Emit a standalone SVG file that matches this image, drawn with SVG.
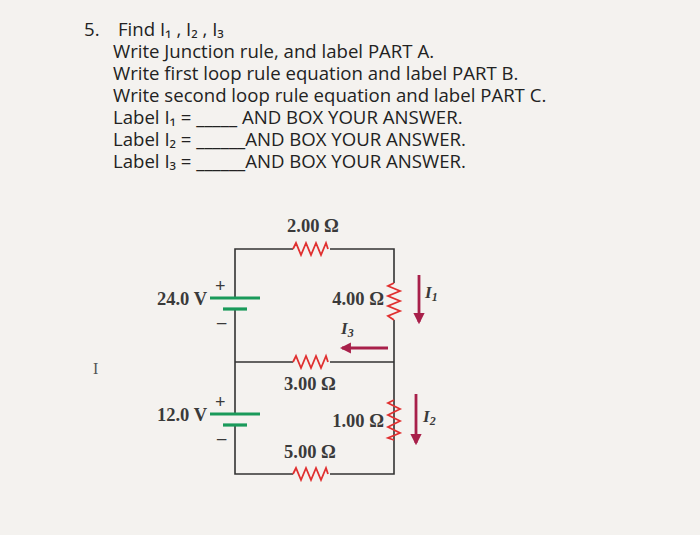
<svg xmlns="http://www.w3.org/2000/svg" width="700" height="535" viewBox="0 0 700 535">
<style>
.t{font-family:"Open Sans",sans-serif;font-size:18.6px;fill:#222}
.c{font-family:"Liberation Serif",serif;font-size:18.5px;font-weight:bold;fill:#3a3a3a}
.w{stroke:#333;stroke-width:1.6;fill:none}
.r{stroke:#e03030;stroke-width:1.8;fill:none;stroke-linejoin:miter}
.b{stroke:#1a9a5a;stroke-width:3.2}
.a{stroke:#a8204a;stroke-width:2.8}
.ci{font-family:"Liberation Serif",serif;font-style:italic;font-weight:bold;font-size:17px;fill:#3a3a3a}
</style>
<defs><marker id="ah" viewBox="0 0 10 10" refX="8" refY="5" markerWidth="4" markerHeight="4" orient="auto"><path d="M0,0L10,5L0,10z" fill="#a8204a"/></marker></defs>
<rect width="700" height="535" fill="#f4f2ef"/>
<g id="text">
<text class="t" x="84" y="36">5.</text>
<text class="t" x="118" y="36">Find I₁ , I₂ , I₃</text>
<text class="t" x="113" y="58">Write Junction rule, and label PART A.</text>
<text class="t" x="113" y="80">Write first loop rule equation and label PART B.</text>
<text class="t" x="113" y="102">Write second loop rule equation and label PART C.</text>
<text class="t" x="113" y="124">Label I₁  = _____ AND BOX YOUR ANSWER.</text>
<text class="t" x="113" y="146">Label I₂ = ______AND BOX YOUR ANSWER.</text>
<text class="t" x="113" y="168">Label I₃ = ______AND BOX YOUR ANSWER.</text>
<text x="93" y="374" font-family="Liberation Serif,serif" font-size="16" fill="#555">I</text>
</g>
<g id="connectors">
<path class="w" d="M235,298V249H293M330,249H394V283M394,320V474H330M293,474H235V425M235,414V309M235,362H293M330,362H394"/>
</g>
<g id="r2"><path class="r" d="M293,249l3,-6l5,12l5,-12l5,12l5,-12l5,12l5,-12l2,6"/><text class="c" x="313" y="232" text-anchor="middle">2.00 Ω</text></g>
<g id="r3"><path class="r" d="M293,362l3,-6l5,12l5,-12l5,12l5,-12l5,12l5,-12l2,6"/><text class="c" x="310" y="390" text-anchor="middle">3.00 Ω</text></g>
<g id="r5"><path class="r" d="M293,474l3,-6l5,12l5,-12l5,12l5,-12l5,12l5,-12l2,6"/><text class="c" x="310" y="458" text-anchor="middle">5.00 Ω</text></g>
<g id="r4"><path class="r" d="M394,283l-6,3l12,5l-12,5l12,5l-12,5l12,5l-12,5l6,4"/><text class="c" x="384" y="305" text-anchor="end">4.00 Ω</text></g>
<g id="r1"><path class="r" d="M394,400l-6,3l12,6l-12,6l12,6l-12,6l12,6l-12,5l6,2"/><text class="c" x="384" y="427" text-anchor="end">1.00 Ω</text></g>
<g id="b24"><line class="b" x1="210" y1="298" x2="260" y2="298"/><line class="b" x1="223" y1="309" x2="247" y2="309"/><text class="c" x="207" y="305" text-anchor="end">24.0 V</text><text class="c" x="215" y="292">+</text><text class="c" x="217" y="328">–</text></g>
<g id="b12"><line class="b" x1="210" y1="414" x2="260" y2="414"/><line class="b" x1="223" y1="425" x2="247" y2="425"/><text class="c" x="207" y="421" text-anchor="end">12.0 V</text><text class="c" x="215" y="408">+</text><text class="c" x="217" y="444">–</text></g>
<g id="arrows">
<line class="a" x1="419" y1="275" x2="419" y2="322" marker-end="url(#ah)"/><text class="ci" x="425" y="298">I<tspan font-size="12" dy="3">1</tspan></text>
<line class="a" x1="416" y1="394" x2="416" y2="443" marker-end="url(#ah)"/><text class="ci" x="423" y="422">I<tspan font-size="12" dy="3">2</tspan></text>
<line class="a" x1="388" y1="348" x2="342" y2="348" marker-end="url(#ah)"/><text class="ci" x="341" y="334">I<tspan font-size="12" dy="3">3</tspan></text>
</g>
</svg>
